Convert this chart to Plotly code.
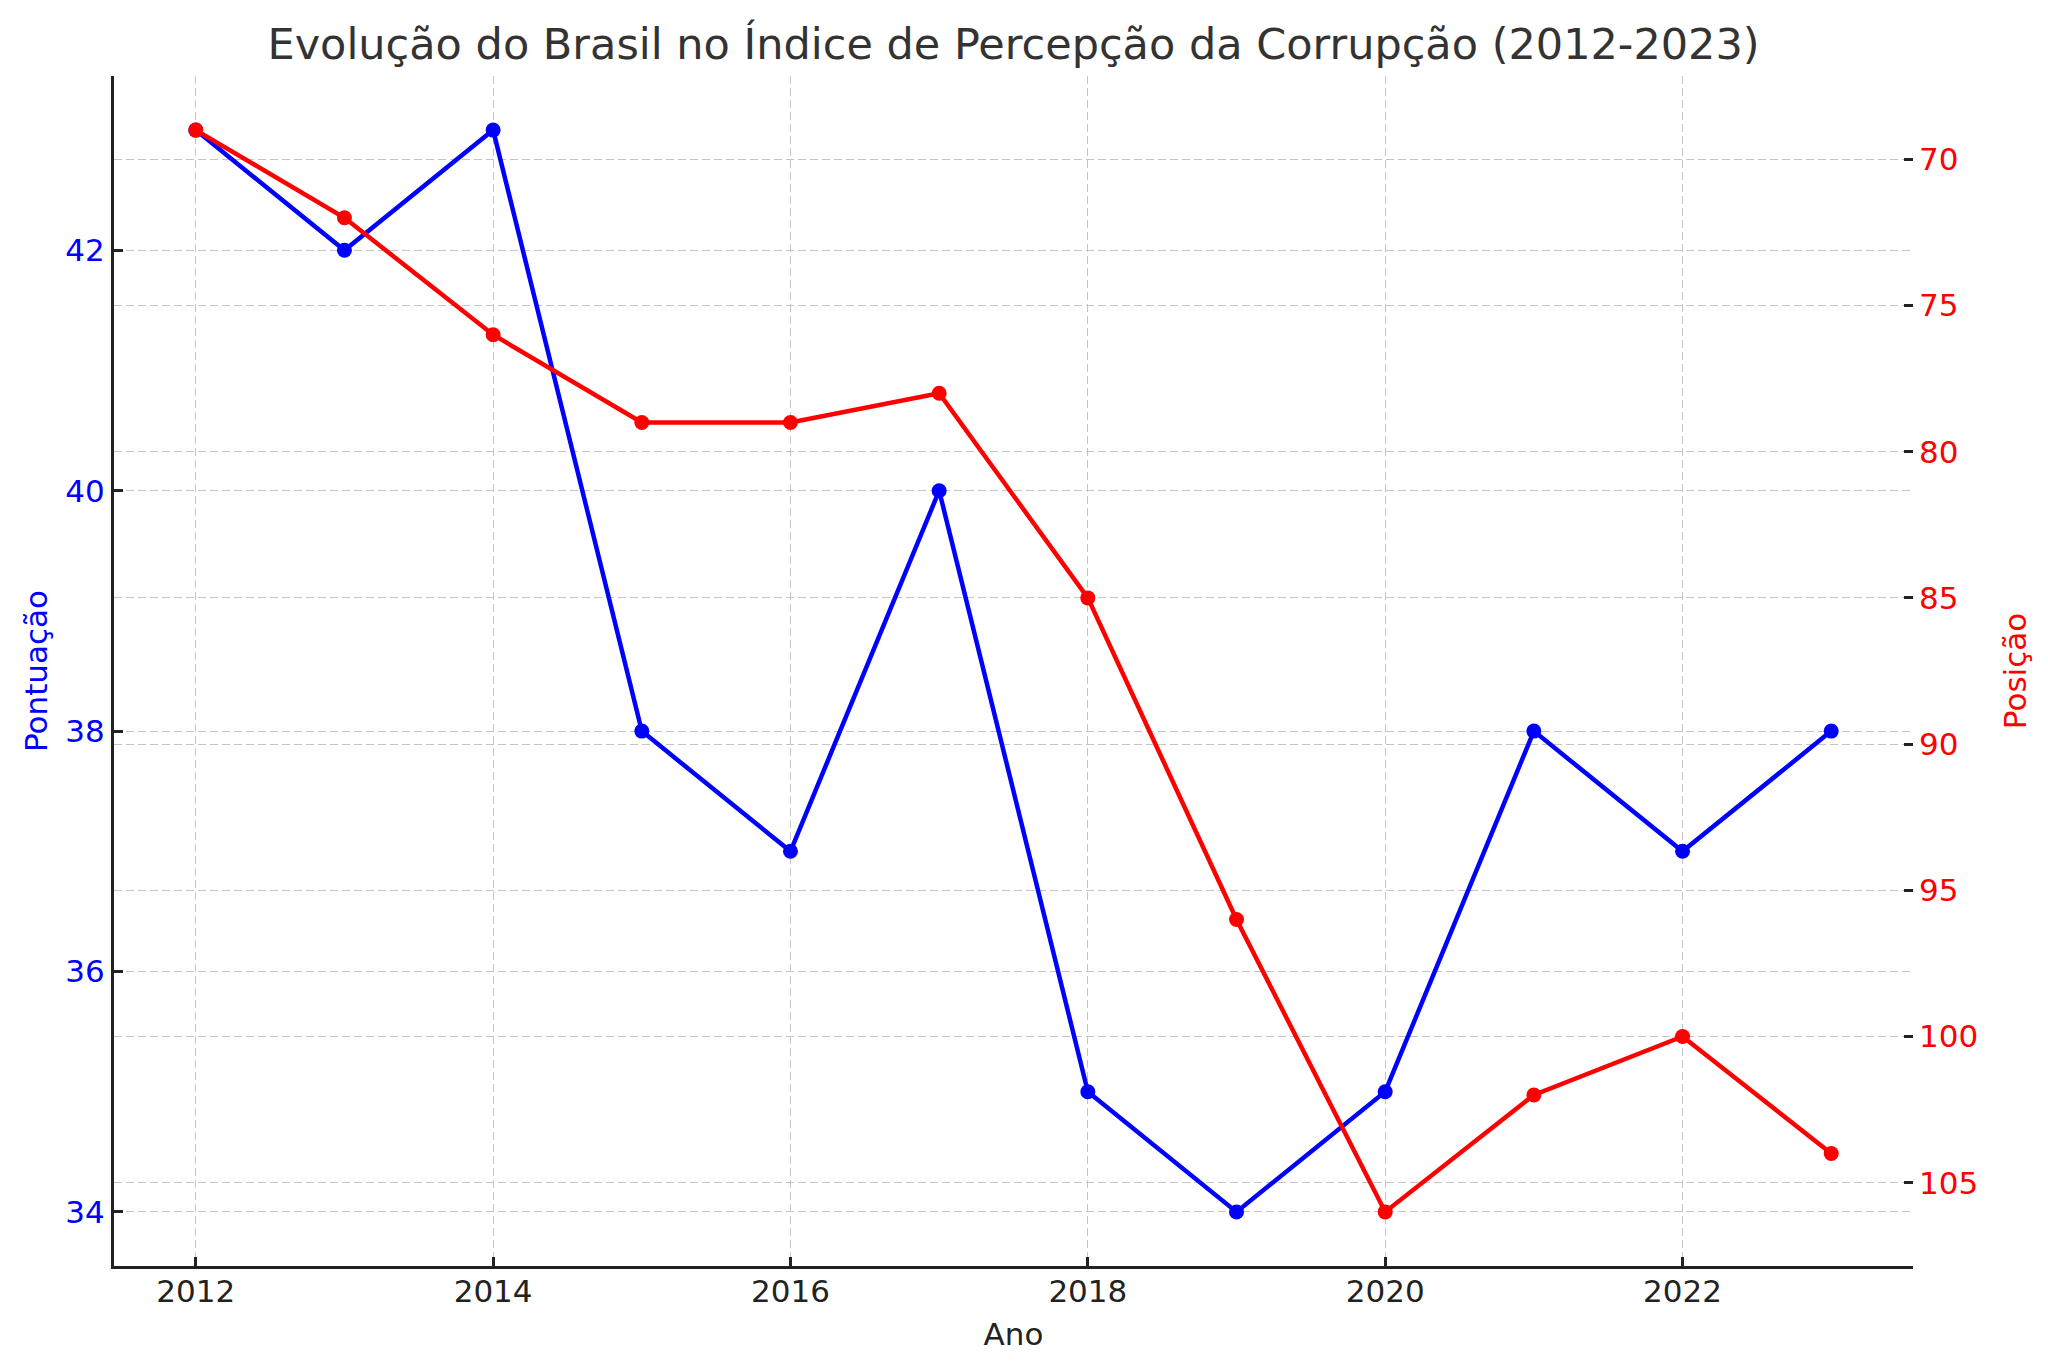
import plotly.graph_objects as go

anos = [2012, 2013, 2014, 2015, 2016, 2017, 2018, 2019, 2020, 2021, 2022, 2023]
pontuacao = [43, 42, 43, 38, 37, 40, 35, 34, 35, 38, 37, 38]
posicao = [69, 72, 76, 79, 79, 78, 85, 96, 106, 102, 100, 104]

x_ticks = [2012, 2014, 2016, 2018, 2020, 2022]
y1_ticks = [34, 36, 38, 40, 42]
y2_ticks = [70, 75, 80, 85, 90, 95, 100, 105]

BLUE = "#0000ff"
RED = "#ff0000"
FONT = "DejaVu Sans"
GRID = "#c4c4c4"
DASH = "8px,4px"

fig = go.Figure()
fig.add_trace(go.Scatter(x=anos, y=pontuacao, mode="lines+markers", name="Pontuação",
                         line=dict(color=BLUE, width=4.5), marker=dict(color=BLUE, size=15),
                         yaxis="y"))
fig.add_trace(go.Scatter(x=anos, y=posicao, mode="lines+markers", name="Posição",
                         line=dict(color=RED, width=4.5), marker=dict(color=RED, size=15),
                         yaxis="y2"))

fig.update_layout(
    width=2048, height=1366,
    margin=dict(l=114, r=135, t=76, b=100),
    paper_bgcolor="white", plot_bgcolor="white",
    showlegend=False,
    font=dict(family=FONT, size=31, color="#222222"),
    title=dict(text="Evolução do Brasil no Índice de Percepção da Corrupção (2012-2023)",
               x=0.4949, xanchor="center", y=1 - 44 / 1366, yanchor="middle", yref="container",
               font=dict(family=FONT, size=43, color="#333333")),
    xaxis=dict(range=[2011.45, 2023.55], tickvals=x_ticks, ticktext=[str(v) for v in x_ticks],
               showgrid=True, gridcolor=GRID, griddash=DASH, gridwidth=1.3,
               showline=True, linecolor="#222222", linewidth=3, mirror=False,
               ticks="inside", ticklen=9, tickwidth=2.5, tickcolor="#222222",
               ticklabelstandoff=-4,
               tickfont=dict(family=FONT, size=31, color="#222222"),
               title=dict(text="Ano", font=dict(family=FONT, size=31, color="#222222"), standoff=16),
               zeroline=False),
    yaxis=dict(range=[33.55, 43.45], tickvals=y1_ticks, ticktext=[str(v) for v in y1_ticks],
               showgrid=True, gridcolor=GRID, griddash=DASH, gridwidth=1.3,
               showline=True, linecolor="#222222", linewidth=3,
               ticks="inside", ticklen=9, tickwidth=2.5, tickcolor="#222222",
               ticklabelstandoff=0,
               tickfont=dict(family=FONT, size=31, color=BLUE),
               title=dict(text="Pontuação", font=dict(family=FONT, size=31, color=BLUE), standoff=9),
               zeroline=False),
    yaxis2=dict(range=[107.85, 67.15], tickvals=y2_ticks, ticktext=[str(v) for v in y2_ticks],
                overlaying="y", side="right",
                showgrid=True, gridcolor=GRID, griddash=DASH, gridwidth=1.3,
                showline=False,
                ticks="inside", ticklen=9, tickwidth=2.5, tickcolor="#222222",
                ticklabelstandoff=5,
                tickfont=dict(family=FONT, size=31, color=RED),
                title=dict(text="Posição", font=dict(family=FONT, size=31, color=RED), standoff=27),
                zeroline=False),
)

fig.write_html("out.html")
